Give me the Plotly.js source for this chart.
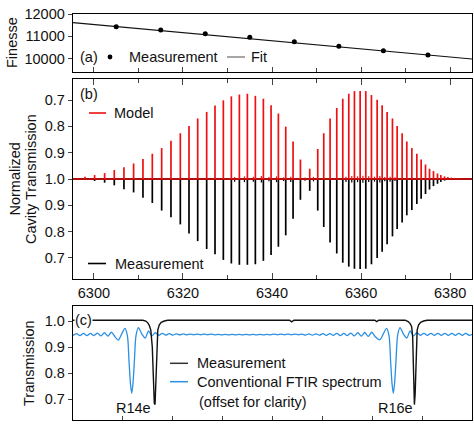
<!DOCTYPE html>
<html>
<head>
<meta charset="utf-8">
<script src="https://cdn.plot.ly/plotly-3.0.1.min.js"></script>
<style>
  html, body { margin: 0; padding: 0; background: #fff; }
  #chart { width: 474px; height: 424px; }
</style>
</head>
<body>
<div id="chart"></div>
<script>
// ---------- (a) cavity finesse vs wavenumber ----------
const finesseWn   = [6305, 6315, 6325, 6335, 6345, 6355, 6365, 6375];
const finesseMeas = [11432, 11283, 11118, 10954, 10760, 10551, 10356, 10162];
const fitWn       = [6295.3, 6384.9];
const fitFinesse  = [11610, 9982];

// ---------- (b) line centres (cm^-1) and peak transmission ----------
const lineWn = [6297.98, 6300.15, 6302.40, 6304.57, 6306.74, 6308.91, 6311.01, 6313.11, 6315.21, 6317.30,
                6319.40, 6321.35, 6323.30, 6325.32, 6327.19, 6329.06, 6330.86, 6332.66, 6334.46, 6336.25,
                6338.05, 6339.78, 6341.42, 6343.07, 6344.72, 6346.37, 6348.46, 6350.26, 6351.61, 6353.03,
                6354.53, 6355.88, 6357.23, 6358.50, 6359.78, 6361.05, 6362.32, 6363.60, 6364.72, 6365.84,
                6367.04, 6368.09, 6369.21, 6370.26, 6371.39, 6372.51, 6373.48, 6374.46, 6375.36, 6376.25,
                6377.15, 6377.90, 6378.73, 6379.48, 6380.22, 6380.90, 6381.60, 6382.30];
const modelT = [0.991, 0.985, 0.9775, 0.966, 0.955, 0.941, 0.924, 0.904, 0.8825, 0.855,
                0.826, 0.799, 0.770, 0.745, 0.721, 0.701, 0.686, 0.679, 0.676, 0.684,
                0.695, 0.720, 0.751, 0.801, 0.8575, 0.926, 0.961, 0.886, 0.826, 0.770,
                0.730, 0.695, 0.676, 0.666, 0.666, 0.666, 0.681, 0.699, 0.720, 0.745,
                0.770, 0.799, 0.826, 0.8575, 0.8825, 0.904, 0.926, 0.945, 0.961, 0.970,
                0.979, 0.985, 0.990, 0.9925, 0.995, 0.996, 0.997, 0.998];
const measT  = [0.996, 0.9925, 0.986, 0.976, 0.961, 0.949, 0.929, 0.909, 0.880, 0.855,
                0.8275, 0.7925, 0.764, 0.734, 0.714, 0.6925, 0.679, 0.674, 0.674, 0.676,
                0.689, 0.711, 0.7425, 0.786, 0.849, 0.921, 0.955, 0.880, 0.8175, 0.759,
                0.717, 0.682, 0.667, 0.659, 0.658, 0.659, 0.676, 0.700, 0.724, 0.752,
                0.782, 0.810, 0.835, 0.862, 0.882, 0.905, 0.925, 0.943, 0.960, 0.973,
                0.982, 0.989, 0.994, 0.996, 0.998, 0.998, 0.9985, 0.999];
// weak lines sitting close to the baseline
const weakWn     = [6331.6, 6333.8, 6335.8, 6337.6, 6339.3, 6341.0, 6342.6, 6344.2, 6347.4, 6349.3,
                    6356.6, 6357.9, 6359.2, 6360.4, 6361.7, 6363.0, 6364.2, 6365.3, 6366.5, 6367.6];
const weakModelT = [0.992, 0.990, 0.991, 0.989, 0.992, 0.990, 0.993, 0.991, 0.994, 0.992,
                    0.991, 0.989, 0.990, 0.988, 0.990, 0.991, 0.989, 0.992, 0.991, 0.993];
const weakMeasT  = [0.990, 0.988, 0.990, 0.987, 0.991, 0.988, 0.992, 0.989, 0.993, 0.991,
                    0.989, 0.987, 0.988, 0.986, 0.989, 0.990, 0.987, 0.991, 0.990, 0.992];

// ---------- (c) R14e / R16e close-up (relative position) ----------
const cavityPos = [0, 1.40, 1.46, 1.50, 1.53, 1.56, 1.59, 1.61, 1.63, 1.645, 1.66, 1.68, 1.70, 1.73, 1.77, 1.83, 1.90,
                   4.34, 4.385, 4.43, 6.05, 6.09, 6.13,
                   6.66, 6.72, 6.76, 6.79, 6.81, 6.83, 6.845, 6.86, 6.88, 6.90, 6.93, 6.97, 7.03, 7.10, 8.0];
const cavityT   = [1.003, 1.003, 1.0, 0.993, 0.983, 0.965, 0.90, 0.78, 0.685, 0.68, 0.76, 0.90, 0.965, 0.985, 0.995, 1.0, 1.003,
                   1.003, 0.997, 1.003, 1.003, 0.998, 1.003,
                   1.003, 0.998, 0.99, 0.978, 0.94, 0.78, 0.68, 0.72, 0.90, 0.965, 0.985, 0.995, 1.0, 1.003, 1.003];

const ftirPos = [0.00, 0.07, 0.14, 0.21, 0.28, 0.35, 0.42, 0.49, 0.56, 0.63, 0.70, 0.77, 0.84,
                 0.907, 0.975, 1.042, 1.09, 1.125, 1.152, 1.177, 1.202, 1.229, 1.264, 1.312, 1.38, 1.447, 1.515, 1.58, 1.65,
                 1.72, 1.79, 1.86, 1.93, 2.00, 2.07, 2.14, 2.21, 2.28, 2.35, 2.42, 2.49, 2.56, 2.63, 2.70, 2.77,
                 2.84, 2.91, 2.98, 3.05, 3.12, 3.19, 3.26, 3.33, 3.40, 3.47, 3.54, 3.61, 3.68, 3.75, 3.82, 3.89,
                 3.96, 4.03, 4.10, 4.17, 4.24, 4.31, 4.38, 4.45, 4.52, 4.59, 4.66, 4.73, 4.80, 4.87, 4.94, 5.01,
                 5.08, 5.15, 5.22, 5.29, 5.36, 5.43, 5.50, 5.57, 5.64, 5.71, 5.78, 5.85, 5.92, 5.99, 6.06,
                 6.152, 6.22, 6.287, 6.335, 6.37, 6.397, 6.422, 6.447, 6.474, 6.509, 6.557, 6.625, 6.692, 6.76, 6.825, 6.895,
                 6.965, 7.035, 7.105, 7.175, 7.245, 7.315, 7.385, 7.455, 7.525, 7.595, 7.665, 7.735, 7.805, 7.875, 7.945, 8.0];
const ftirT   = [0.945, 0.952, 0.944, 0.953, 0.944, 0.953, 0.944, 0.954, 0.943, 0.955, 0.942, 0.957, 0.940,
                 0.927, 0.950, 0.972, 0.945, 0.840, 0.760, 0.723, 0.760, 0.840, 0.945, 0.975, 0.950, 0.935, 0.962, 0.943, 0.955,
                 0.945, 0.953, 0.946, 0.952, 0.946, 0.951, 0.947, 0.951, 0.947, 0.950, 0.947, 0.950, 0.947, 0.950, 0.947, 0.950,
                 0.947, 0.949, 0.947, 0.949, 0.947, 0.949, 0.947, 0.949, 0.947, 0.949, 0.947, 0.949, 0.947, 0.949, 0.947, 0.949,
                 0.947, 0.950, 0.947, 0.950, 0.947, 0.950, 0.947, 0.950, 0.947, 0.950, 0.946, 0.951, 0.946, 0.951, 0.946, 0.952,
                 0.945, 0.952, 0.945, 0.953, 0.944, 0.953, 0.944, 0.954, 0.943, 0.955, 0.942, 0.956, 0.941, 0.957, 0.940,
                 0.928, 0.950, 0.972, 0.945, 0.840, 0.760, 0.723, 0.760, 0.840, 0.945, 0.975, 0.950, 0.935, 0.962, 0.943, 0.955,
                 0.945, 0.953, 0.945, 0.953, 0.945, 0.953, 0.945, 0.953, 0.945, 0.953, 0.945, 0.953, 0.945, 0.953, 0.945, 0.949];

// axis tick labels
const finesseTicks = [10000, 11000, 12000];
const stickTickVals = [-0.3, -0.2, -0.1, 0, 0.1, 0.2, 0.3];
const stickTickText = ['0.7', '0.8', '0.9', '1.0', '0.9', '0.8', '0.7'];
const transTicks = [0.7, 0.8, 0.9, 1.0];

// ---------- helpers ----------
const FONT = 'Arial, "Liberation Sans", sans-serif';
const FS = 14.5;
const WN_RANGE = [6295.3, 6384.9];

// vertical sticks from the 1.0 baseline: up for the model, down for the measurement
function sticks(pos, trans, dir) {
  const xs = [], ys = [];
  pos.forEach((p, i) => {
    xs.push(p, p, null);
    ys.push(0, dir * (1 - trans[i]), null);
  });
  return { xs, ys };
}
const measSt = sticks(lineWn, measT, -1);
const modelSt = sticks(lineWn, modelT, 1);
const weakMeasSt = sticks(weakWn, weakMeasT, -1);
const weakModelSt = sticks(weakWn, weakModelT, 1);

// pixel -> paper coordinates (plot area spans x 73..472, y 14..420)
const PX = x => (x - 73) / 399;
const PY = y => (420 - y) / 406;

const RED = '#ee1111';
const BLUE = '#2b8fe3';

const traces = [
  { x: fitWn, y: fitFinesse, xaxis: 'x', yaxis: 'y', mode: 'lines',
    line: { color: '#111', width: 1.2 }, hoverinfo: 'skip' },
  { x: finesseWn, y: finesseMeas, xaxis: 'x', yaxis: 'y', mode: 'markers',
    marker: { color: '#000', size: 5 } },

  { x: WN_RANGE, y: [0, 0], xaxis: 'x2', yaxis: 'y2', mode: 'lines',
    line: { color: '#000', width: 2.2 } },
  { x: measSt.xs, y: measSt.ys, xaxis: 'x2', yaxis: 'y2', mode: 'lines',
    line: { color: '#000', width: 1.7 }, connectgaps: false },
  { x: weakMeasSt.xs, y: weakMeasSt.ys, xaxis: 'x2', yaxis: 'y2', mode: 'lines',
    line: { color: '#000', width: 1.2 }, connectgaps: false },
  { x: modelSt.xs, y: modelSt.ys, xaxis: 'x2', yaxis: 'y2', mode: 'lines',
    line: { color: RED, width: 1.7 }, connectgaps: false },
  { x: weakModelSt.xs, y: weakModelSt.ys, xaxis: 'x2', yaxis: 'y2', mode: 'lines',
    line: { color: RED, width: 1.2 }, connectgaps: false },
  { x: WN_RANGE, y: [0, 0], xaxis: 'x2', yaxis: 'y2', mode: 'lines',
    line: { color: RED, width: 1.3 } },

  { x: ftirPos, y: ftirT, xaxis: 'x3', yaxis: 'y3', mode: 'lines',
    line: { color: BLUE, width: 1.3, shape: 'spline', smoothing: 0.8 } },
  { x: cavityPos, y: cavityT, xaxis: 'x3', yaxis: 'y3', mode: 'lines',
    line: { color: '#111', width: 1.4 } }
];

const frame = { showline: true, linecolor: '#000', linewidth: 1.3, showgrid: false, zeroline: false };

const layout = {
  width: 474, height: 424,
  margin: { l: 73, r: 2, t: 14, b: 4 },
  paper_bgcolor: '#fff', plot_bgcolor: '#fff',
  showlegend: false,
  font: { family: FONT, size: FS, color: '#111' },
  xaxis: Object.assign({}, frame, {
    domain: [0, 1], anchor: 'y', range: WN_RANGE, mirror: true,
    tickmode: 'linear', tick0: 6300, dtick: 20, ticks: 'inside', ticklen: 5,
    minor: { dtick: 10, tick0: 6300, ticks: 'inside', ticklen: 4 },
    showticklabels: false
  }),
  yaxis: Object.assign({}, frame, {
    domain: [PY(72), 1], anchor: 'x', range: [9400, 12001], mirror: true,
    tickvals: finesseTicks, ticktext: finesseTicks.map(String), ticks: 'outside', ticklen: 4
  }),
  xaxis2: Object.assign({}, frame, {
    domain: [0, 1], anchor: 'y2', range: WN_RANGE, mirror: 'ticks',
    tickmode: 'linear', tick0: 6300, dtick: 20, ticks: 'inside', ticklen: 6,
    minor: { dtick: 10, tick0: 6300, ticks: 'inside', ticklen: 4 },
    tickfont: { size: FS }
  }),
  yaxis2: Object.assign({}, frame, {
    domain: [PY(279), PY(79)], anchor: 'x2', range: [-0.38, 0.38], mirror: true,
    tickvals: stickTickVals, ticktext: stickTickText, ticks: 'outside', ticklen: 4
  }),
  xaxis3: Object.assign({}, frame, {
    domain: [0, 1], anchor: 'y3', range: [0, 8], mirror: true,
    tickmode: 'linear', tick0: 0, dtick: 1, ticks: 'inside', ticklen: 4,
    showticklabels: false
  }),
  yaxis3: Object.assign({}, frame, {
    domain: [0, PY(306)], anchor: 'x3', range: [0.621, 1.0575], mirror: true,
    tickvals: transTicks, ticktext: transTicks.map(v => v.toFixed(1)), ticks: 'outside', ticklen: 4
  }),
  shapes: [
    // legend samples
    { type: 'circle', xref: 'paper', yref: 'paper', x0: PX(107.6), x1: PX(112.4), y0: PY(59.4), y1: PY(54.6),
      fillcolor: '#000', line: { width: 0 } },
    { type: 'line', xref: 'paper', yref: 'paper', x0: PX(227), x1: PX(245), y0: PY(57), y1: PY(57),
      line: { color: '#888', width: 1.5 } },
    { type: 'line', xref: 'paper', yref: 'paper', x0: PX(89), x1: PX(106), y0: PY(113), y1: PY(113),
      line: { color: RED, width: 1.6 } },
    { type: 'line', xref: 'paper', yref: 'paper', x0: PX(88), x1: PX(106), y0: PY(263.5), y1: PY(263.5),
      line: { color: '#000', width: 1.6 } },
    { type: 'line', xref: 'paper', yref: 'paper', x0: PX(170), x1: PX(188), y0: PY(363.3), y1: PY(363.3),
      line: { color: '#333', width: 1.5 } },
    { type: 'line', xref: 'paper', yref: 'paper', x0: PX(170), x1: PX(188), y0: PY(381.7), y1: PY(381.7),
      line: { color: BLUE, width: 1.5 } }
  ],
  annotations: []
};

function label(text, x, y, opts) {
  layout.annotations.push(Object.assign({
    text: text, xref: 'paper', yref: 'paper', x: PX(x), y: PY(y),
    xanchor: 'left', yanchor: 'middle', showarrow: false,
    font: { family: FONT, size: FS, color: '#111' }
  }, opts || {}));
}

// panel labels and legend texts
label('(a)', 78, 56.5);
label('Measurement', 126.5, 57);
label('Fit', 248.5, 57);
label('(b)', 78, 94);
label('Model', 112, 113);
label('Measurement', 113, 263.5);
label('(c)', 73.5, 320, { bgcolor: '#fff', borderpad: 0 });
label('Measurement', 195, 363.3);
label('Conventional FTIR spectrum', 195, 381.7);
label('(offset for clarity)', 196.5, 401.7);
label('R14e', 133.3, 408.3, { xanchor: 'center' });
label('R16e', 395, 407.5, { xanchor: 'center' });

// axis titles
label('Finesse', 12, 43, { xanchor: 'center', textangle: -90 });
label('Normalized', 14.5, 179, { xanchor: 'center', textangle: -90 });
label('Cavity Transmission', 31, 179, { xanchor: 'center', textangle: -90 });
label('Transmission', 29, 363, { xanchor: 'center', textangle: -90 });

Plotly.newPlot('chart', traces, layout, { displayModeBar: false, staticPlot: true });
</script>
</body>
</html>
